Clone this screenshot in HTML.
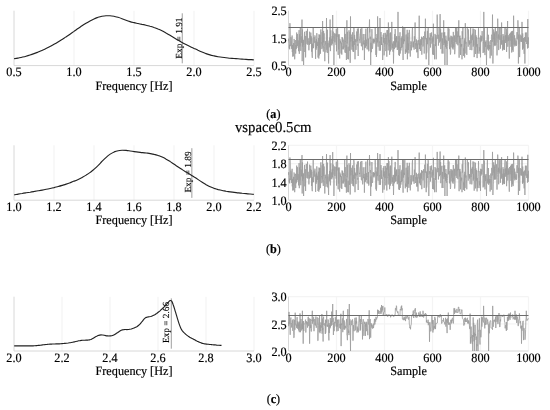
<!DOCTYPE html>
<html><head><meta charset="utf-8"><title>Figure</title>
<style>html,body{margin:0;padding:0;background:#fff}svg{display:block}text{text-rendering:geometricPrecision;stroke:#000;stroke-width:0.18px}</style></head>
<body>
<svg width="550" height="410" viewBox="0 0 550 410" font-family='"Liberation Serif", serif' fill="#000">
<rect width="550" height="410" fill="#fff"/>
<defs><filter id="bl" x="-2%" y="-10%" width="104%" height="120%"><feGaussianBlur stdDeviation="0.3"/></filter></defs>
<g><text transform="translate(14.0 76.3) scale(0.955 1)" font-size="12.8" text-anchor="middle">0.5</text>
<line x1="74.0" y1="10.7" x2="74.0" y2="65.6" stroke="#f4f4f4" stroke-width="1.2"/>
<text transform="translate(74.0 76.3) scale(0.955 1)" font-size="12.8" text-anchor="middle">1.0</text>
<line x1="134.0" y1="10.7" x2="134.0" y2="65.6" stroke="#f4f4f4" stroke-width="1.2"/>
<text transform="translate(134.0 76.3) scale(0.955 1)" font-size="12.8" text-anchor="middle">1.5</text>
<line x1="194.0" y1="10.7" x2="194.0" y2="65.6" stroke="#f4f4f4" stroke-width="1.2"/>
<text transform="translate(194.0 76.3) scale(0.955 1)" font-size="12.8" text-anchor="middle">2.0</text>
<line x1="254.0" y1="10.7" x2="254.0" y2="65.6" stroke="#f4f4f4" stroke-width="1.2"/>
<text transform="translate(254.0 76.3) scale(0.955 1)" font-size="12.8" text-anchor="middle">2.5</text>
<path d="M14.0 10.7V65.6H254.0" fill="none" stroke="#d8d8d8" stroke-width="1"/>
<line x1="182.25" y1="13.3" x2="182.25" y2="63.3" stroke="#6a6a6a" stroke-width="0.65"/>
<text transform="translate(181.7 58.7) rotate(-90)" font-size="9.3" fill="#000" style="stroke-width:0.12px">Exp = 1.91</text>
<path d="M14.0 58.8C14.7 58.7 16.7 58.4 18.0 58.1C19.3 57.8 20.7 57.6 22.0 57.2C23.3 56.9 24.7 56.6 26.0 56.2C27.3 55.8 28.7 55.4 30.0 55.0C31.3 54.6 32.7 54.1 34.0 53.6C35.3 53.1 36.7 52.6 38.0 52.1C39.3 51.5 40.7 51.0 42.0 50.4C43.3 49.8 44.7 49.2 46.0 48.5C47.3 47.9 48.7 47.2 50.0 46.5C51.3 45.8 52.7 45.1 54.0 44.3C55.3 43.6 56.7 42.8 58.0 42.0C59.3 41.2 60.7 40.4 62.0 39.6C63.3 38.7 64.7 37.8 66.0 36.9C67.3 36.1 68.7 35.1 70.0 34.2C71.3 33.3 72.7 32.3 74.0 31.4C75.3 30.4 76.7 29.5 78.0 28.5C79.3 27.6 80.7 26.7 82.0 25.8C83.3 24.9 84.7 24.0 86.0 23.2C87.3 22.4 88.7 21.6 90.0 20.9C91.3 20.2 92.7 19.5 94.0 18.9C95.3 18.3 96.7 17.8 98.0 17.3C99.3 16.9 100.7 16.5 102.0 16.2C103.3 16.0 104.7 15.8 106.0 15.7C107.3 15.7 108.7 15.7 110.0 15.8C111.3 15.9 112.7 16.1 114.0 16.3C115.3 16.6 116.7 16.9 118.0 17.3C119.3 17.7 120.7 18.2 122.0 18.7C123.3 19.2 124.7 19.7 126.0 20.2C127.3 20.7 128.7 21.2 130.0 21.6C131.3 22.0 132.7 22.3 134.0 22.6C135.3 23.0 136.7 23.2 138.0 23.5C139.3 23.8 140.7 24.1 142.0 24.4C143.3 24.6 144.7 24.9 146.0 25.2C147.3 25.6 148.7 25.9 150.0 26.3C151.3 26.6 152.7 27.0 154.0 27.5C155.3 27.9 156.7 28.4 158.0 29.0C159.3 29.5 160.7 30.1 162.0 30.7C163.3 31.4 164.7 32.1 166.0 32.9C167.3 33.6 168.7 34.4 170.0 35.2C171.3 36.0 172.7 36.9 174.0 37.7C175.3 38.5 176.7 39.3 178.0 40.1C179.3 40.9 180.7 41.7 182.0 42.4C183.3 43.2 184.7 43.9 186.0 44.5C187.3 45.2 188.7 45.9 190.0 46.5C191.3 47.1 192.7 47.8 194.0 48.4C195.3 49.0 196.7 49.6 198.0 50.3C199.3 50.9 200.7 51.5 202.0 52.0C203.3 52.6 204.7 53.1 206.0 53.6C207.3 54.1 208.7 54.6 210.0 54.9C211.3 55.3 212.7 55.6 214.0 55.9C215.3 56.2 216.7 56.5 218.0 56.7C219.3 56.9 220.7 57.1 222.0 57.2C223.3 57.4 224.7 57.6 226.0 57.7C227.3 57.9 228.7 58.0 230.0 58.2C231.3 58.3 232.7 58.4 234.0 58.5C235.3 58.6 236.7 58.7 238.0 58.8C239.3 58.9 240.7 59.0 242.0 59.1C243.3 59.2 244.7 59.3 246.0 59.4C247.3 59.5 248.7 59.6 250.0 59.6C251.3 59.7 253.2 59.8 253.8 59.9" fill="none" stroke="#222" stroke-width="1.15" stroke-linejoin="round"/>
<text transform="translate(134.0 89.8) scale(0.955 1)" font-size="12.8" text-anchor="middle">Frequency [Hz]</text>
<text transform="translate(288.5 76.3) scale(0.955 1)" font-size="12.8" text-anchor="middle">0</text>
<line x1="336.5" y1="10.7" x2="336.5" y2="65.6" stroke="#f4f4f4" stroke-width="1.2"/>
<text transform="translate(336.5 76.3) scale(0.955 1)" font-size="12.8" text-anchor="middle">200</text>
<line x1="384.5" y1="10.7" x2="384.5" y2="65.6" stroke="#f4f4f4" stroke-width="1.2"/>
<text transform="translate(384.5 76.3) scale(0.955 1)" font-size="12.8" text-anchor="middle">400</text>
<line x1="432.5" y1="10.7" x2="432.5" y2="65.6" stroke="#f4f4f4" stroke-width="1.2"/>
<text transform="translate(432.5 76.3) scale(0.955 1)" font-size="12.8" text-anchor="middle">600</text>
<line x1="480.5" y1="10.7" x2="480.5" y2="65.6" stroke="#f4f4f4" stroke-width="1.2"/>
<text transform="translate(480.5 76.3) scale(0.955 1)" font-size="12.8" text-anchor="middle">800</text>
<line x1="528.5" y1="10.7" x2="528.5" y2="65.6" stroke="#f4f4f4" stroke-width="1.2"/>
<text transform="translate(528.5 76.3) scale(0.955 1)" font-size="12.8" text-anchor="middle">1000</text>
<text transform="translate(286.7 15.3) scale(0.955 1)" font-size="12.8" text-anchor="end">2.5</text>
<line x1="288.5" y1="38.1" x2="528.5" y2="38.1" stroke="#f4f4f4" stroke-width="1.2"/>
<text transform="translate(286.7 42.8) scale(0.955 1)" font-size="12.8" text-anchor="end">1.5</text>
<text transform="translate(286.7 70.2) scale(0.955 1)" font-size="12.8" text-anchor="end">0.5</text>
<path d="M288.5 10.7V65.6H528.5" fill="none" stroke="#d8d8d8" stroke-width="1"/>
<path d="M288.5 41.2L288.7 38.7L289.0 43.4L289.2 48.4L289.5 44.9L289.7 49.3L289.9 23.2L290.2 30.2L290.4 45.2L290.7 46.2L290.9 37.2L291.1 38.3L291.4 40.3L291.6 48.8L291.9 41.4L292.1 35.5L292.3 52.1L292.6 44.9L292.8 56.7L293.1 51.7L293.3 56.2L293.5 43.1L293.8 51.5L294.0 39.0L294.3 39.9L294.5 42.7L294.7 59.3L295.0 45.6L295.2 41.6L295.5 40.2L295.7 53.6L295.9 45.1L296.2 49.1L296.4 47.8L296.7 32.5L296.9 47.8L297.1 41.4L297.4 34.0L297.6 45.9L297.9 42.1L298.1 40.3L298.3 40.6L298.6 51.2L298.8 40.5L299.1 30.1L299.3 53.8L299.6 34.2L299.8 40.2L300.0 46.4L300.3 27.1L300.5 35.0L300.8 50.9L301.0 40.6L301.2 36.5L301.5 42.7L301.7 35.6L302.0 19.6L302.2 61.2L302.4 29.4L302.7 46.7L302.9 39.5L303.2 44.9L303.4 40.1L303.6 65.0L303.9 45.9L304.1 42.8L304.4 33.8L304.6 31.8L304.8 52.0L305.1 47.6L305.3 35.9L305.6 57.4L305.8 44.9L306.0 42.0L306.3 30.9L306.5 35.5L306.8 43.8L307.0 44.2L307.2 43.2L307.5 28.7L307.7 44.7L308.0 43.6L308.2 38.3L308.4 42.2L308.7 42.8L308.9 50.3L309.2 41.3L309.4 44.8L309.6 31.7L309.9 35.8L310.1 41.4L310.4 35.7L310.6 43.9L310.8 32.6L311.1 41.2L311.3 36.4L311.6 51.7L311.8 38.3L312.0 54.9L312.3 57.8L312.5 43.7L312.8 48.5L313.0 39.8L313.2 27.1L313.5 48.0L313.7 46.3L314.0 39.5L314.2 37.2L314.4 42.6L314.7 42.8L314.9 35.4L315.2 36.9L315.4 49.6L315.6 58.9L315.9 40.9L316.1 49.8L316.4 39.1L316.6 48.2L316.8 33.2L317.1 39.6L317.3 40.4L317.6 46.0L317.8 42.1L318.0 57.5L318.3 50.4L318.5 38.2L318.8 58.5L319.0 34.3L319.3 55.4L319.5 35.0L319.7 48.1L320.0 34.8L320.2 40.1L320.5 53.7L320.7 31.0L320.9 29.4L321.2 41.7L321.4 43.4L321.7 42.5L321.9 49.1L322.1 32.2L322.4 45.6L322.6 21.0L322.9 47.6L323.1 46.3L323.3 51.6L323.6 30.9L323.8 42.4L324.1 33.3L324.3 41.1L324.5 46.8L324.8 61.2L325.0 45.7L325.3 41.1L325.5 44.2L325.7 43.6L326.0 52.4L326.2 47.7L326.5 18.0L326.7 46.6L326.9 49.8L327.2 38.4L327.4 29.7L327.7 53.0L327.9 42.9L328.1 46.3L328.4 55.5L328.6 63.5L328.9 41.4L329.1 40.6L329.3 47.3L329.6 37.5L329.8 45.6L330.1 19.5L330.3 50.2L330.5 51.1L330.8 30.3L331.0 45.3L331.3 38.8L331.5 41.4L331.7 44.8L332.0 45.3L332.2 36.0L332.5 43.6L332.7 15.0L332.9 41.0L333.2 31.6L333.4 35.6L333.7 38.1L333.9 65.0L334.1 52.4L334.4 33.4L334.6 33.3L334.9 42.3L335.1 36.8L335.3 34.8L335.6 34.4L335.8 33.7L336.1 44.9L336.3 28.8L336.5 51.3L336.8 34.1L337.0 37.1L337.3 34.0L337.5 27.1L337.7 29.1L338.0 50.5L338.2 54.9L338.5 34.5L338.7 49.4L339.0 41.3L339.2 34.3L339.4 54.6L339.7 58.4L339.9 39.1L340.2 40.8L340.4 43.2L340.6 40.9L340.9 48.2L341.1 53.5L341.4 42.5L341.6 49.1L341.8 54.6L342.1 37.0L342.3 41.7L342.6 37.9L342.8 49.2L343.0 46.5L343.3 49.3L343.5 48.4L343.8 39.6L344.0 47.6L344.2 38.3L344.5 38.4L344.7 27.1L345.0 52.5L345.2 33.9L345.4 41.9L345.7 41.3L345.9 53.0L346.2 44.9L346.4 60.0L346.6 41.8L346.9 20.3L347.1 43.5L347.4 31.8L347.6 41.3L347.8 59.1L348.1 46.8L348.3 57.2L348.6 59.3L348.8 45.5L349.0 30.3L349.3 40.8L349.5 50.7L349.8 48.8L350.0 32.0L350.2 62.8L350.5 16.4L350.7 41.6L351.0 40.9L351.2 34.6L351.4 36.7L351.7 39.4L351.9 49.7L352.2 37.0L352.4 46.7L352.6 32.3L352.9 51.5L353.1 42.3L353.4 41.2L353.6 52.0L353.8 27.1L354.1 29.3L354.3 44.9L354.6 34.9L354.8 38.1L355.0 59.3L355.3 39.1L355.5 41.7L355.8 40.5L356.0 49.9L356.2 43.4L356.5 42.6L356.7 31.5L357.0 38.4L357.2 41.2L357.4 28.7L357.7 45.7L357.9 44.3L358.2 56.0L358.4 28.4L358.7 33.3L358.9 33.7L359.1 35.7L359.4 40.3L359.6 39.4L359.9 43.2L360.1 42.8L360.3 40.7L360.6 28.8L360.8 36.6L361.1 41.6L361.3 45.9L361.5 46.3L361.8 28.1L362.0 37.0L362.3 40.6L362.5 44.0L362.7 50.2L363.0 41.7L363.2 34.0L363.5 44.4L363.7 43.0L363.9 43.0L364.2 40.3L364.4 60.0L364.7 43.1L364.9 48.1L365.1 34.0L365.4 47.5L365.6 36.5L365.9 28.7L366.1 43.7L366.3 46.1L366.6 39.6L366.8 41.2L367.1 49.3L367.3 37.4L367.5 27.1L367.8 43.3L368.0 42.8L368.3 49.7L368.5 38.6L368.7 51.3L369.0 50.2L369.2 30.7L369.5 19.5L369.7 32.4L369.9 28.7L370.2 39.1L370.4 36.7L370.7 65.0L370.9 42.8L371.1 46.0L371.4 52.2L371.6 40.8L371.9 29.1L372.1 33.3L372.3 48.9L372.6 48.1L372.8 45.3L373.1 38.8L373.3 42.8L373.5 39.4L373.8 38.8L374.0 43.6L374.3 41.5L374.5 39.5L374.7 41.9L375.0 37.1L375.2 27.1L375.5 36.3L375.7 40.7L375.9 54.9L376.2 38.0L376.4 57.0L376.7 52.7L376.9 34.2L377.1 35.4L377.4 42.4L377.6 16.4L377.9 44.2L378.1 46.7L378.3 36.0L378.6 27.1L378.8 39.4L379.1 47.5L379.3 50.7L379.6 41.6L379.8 42.6L380.0 18.0L380.3 40.2L380.5 50.6L380.8 32.1L381.0 32.5L381.2 32.3L381.5 45.0L381.7 37.0L382.0 42.2L382.2 44.3L382.4 43.9L382.7 60.0L382.9 52.9L383.2 34.7L383.4 42.7L383.6 39.4L383.9 33.0L384.1 55.3L384.4 47.6L384.6 39.7L384.8 38.0L385.1 44.2L385.3 32.8L385.6 39.5L385.8 51.1L386.0 48.8L386.3 34.6L386.5 37.4L386.8 56.7L387.0 30.2L387.2 36.3L387.5 30.2L387.7 44.3L388.0 43.6L388.2 50.4L388.4 22.5L388.7 42.6L388.9 28.2L389.2 46.4L389.4 39.8L389.6 54.8L389.9 44.3L390.1 33.1L390.4 51.4L390.6 32.4L390.8 38.4L391.1 49.7L391.3 45.3L391.6 44.9L391.8 21.9L392.0 45.5L392.3 47.9L392.5 43.7L392.8 49.5L393.0 51.7L393.2 41.6L393.5 63.5L393.7 53.6L394.0 41.1L394.2 46.5L394.4 49.1L394.7 34.2L394.9 45.4L395.2 29.0L395.4 47.5L395.6 38.0L395.9 43.0L396.1 47.3L396.4 36.4L396.6 42.4L396.8 36.3L397.1 41.6L397.3 50.0L397.6 42.0L397.8 40.7L398.0 11.9L398.3 48.6L398.5 41.5L398.8 55.2L399.0 35.9L399.3 50.0L399.5 55.9L399.7 41.7L400.0 32.2L400.2 53.6L400.5 50.0L400.7 47.2L400.9 50.4L401.2 38.1L401.4 47.8L401.7 47.1L401.9 36.4L402.1 47.3L402.4 37.6L402.6 26.4L402.9 51.1L403.1 60.0L403.3 27.1L403.6 43.8L403.8 39.2L404.1 41.4L404.3 39.9L404.5 40.8L404.8 27.1L405.0 49.6L405.3 53.9L405.5 49.4L405.7 52.1L406.0 35.1L406.2 34.5L406.5 49.0L406.7 52.5L406.9 44.1L407.2 29.8L407.4 59.3L407.7 36.9L407.9 49.9L408.1 32.7L408.4 50.0L408.6 43.5L408.9 53.4L409.1 49.1L409.3 29.9L409.6 34.5L409.8 44.4L410.1 48.3L410.3 56.6L410.5 44.4L410.8 41.4L411.0 41.9L411.3 41.9L411.5 50.3L411.7 41.7L412.0 41.5L412.2 30.6L412.5 27.1L412.7 42.3L412.9 47.4L413.2 41.7L413.4 46.1L413.7 47.2L413.9 41.6L414.1 49.7L414.4 36.2L414.6 42.0L414.9 39.1L415.1 22.5L415.3 47.1L415.6 48.9L415.8 43.1L416.1 45.6L416.3 39.3L416.5 41.2L416.8 52.3L417.0 40.6L417.3 52.1L417.5 46.2L417.7 43.6L418.0 58.1L418.2 40.4L418.5 39.9L418.7 42.5L419.0 44.6L419.2 15.7L419.4 49.1L419.7 43.4L419.9 45.7L420.2 40.4L420.4 51.0L420.6 39.2L420.9 40.0L421.1 42.3L421.4 44.8L421.6 36.7L421.8 54.7L422.1 37.4L422.3 39.2L422.6 38.9L422.8 38.0L423.0 46.5L423.3 43.3L423.5 36.0L423.8 37.7L424.0 39.5L424.2 53.5L424.5 36.8L424.7 31.6L425.0 32.9L425.2 39.3L425.4 18.7L425.7 33.5L425.9 42.4L426.2 59.3L426.4 38.1L426.6 53.3L426.9 51.7L427.1 46.3L427.4 30.8L427.6 44.2L427.8 39.0L428.1 27.1L428.3 28.2L428.6 42.0L428.8 65.0L429.0 51.4L429.3 46.8L429.5 37.7L429.8 37.9L430.0 40.3L430.2 33.1L430.5 47.5L430.7 41.6L431.0 35.2L431.2 36.4L431.4 32.4L431.7 37.9L431.9 43.7L432.2 38.2L432.4 49.3L432.6 54.5L432.9 36.4L433.1 41.6L433.4 23.7L433.6 55.0L433.8 44.1L434.1 46.1L434.3 48.2L434.6 59.3L434.8 43.9L435.0 33.9L435.3 38.1L435.5 46.1L435.8 41.3L436.0 35.0L436.2 59.3L436.5 42.2L436.7 36.7L437.0 35.6L437.2 14.6L437.4 31.9L437.7 38.6L437.9 38.7L438.2 34.8L438.4 45.6L438.7 41.5L438.9 33.8L439.1 27.1L439.4 42.5L439.6 41.6L439.9 39.6L440.1 14.1L440.3 41.4L440.6 29.2L440.8 49.1L441.1 42.7L441.3 42.8L441.5 34.8L441.8 32.6L442.0 53.5L442.3 48.6L442.5 38.4L442.7 46.5L443.0 53.6L443.2 32.7L443.5 37.1L443.7 20.3L443.9 45.0L444.2 32.8L444.4 43.1L444.7 32.2L444.9 65.0L445.1 48.1L445.4 39.5L445.6 46.9L445.9 35.7L446.1 39.0L446.3 48.7L446.6 40.6L446.8 44.0L447.1 65.0L447.3 46.3L447.5 44.7L447.8 31.3L448.0 27.1L448.3 27.1L448.5 40.7L448.7 39.4L449.0 28.7L449.2 42.2L449.5 49.1L449.7 40.2L449.9 37.5L450.2 47.9L450.4 54.6L450.7 52.9L450.9 35.7L451.1 47.4L451.4 42.3L451.6 39.4L451.9 36.1L452.1 43.9L452.3 37.1L452.6 48.4L452.8 44.1L453.1 49.5L453.3 31.9L453.5 41.4L453.8 47.2L454.0 44.0L454.3 43.0L454.5 35.5L454.7 54.2L455.0 49.6L455.2 44.3L455.5 27.1L455.7 33.4L455.9 42.1L456.2 35.4L456.4 27.1L456.7 43.1L456.9 44.2L457.1 31.3L457.4 37.1L457.6 35.7L457.9 45.3L458.1 27.1L458.3 27.2L458.6 36.6L458.8 20.3L459.1 57.7L459.3 36.0L459.6 42.8L459.8 37.6L460.0 35.6L460.3 44.0L460.5 55.0L460.8 38.2L461.0 47.2L461.2 43.9L461.5 46.1L461.7 44.0L462.0 59.3L462.2 31.2L462.4 39.1L462.7 32.1L462.9 27.1L463.2 41.0L463.4 55.9L463.6 48.5L463.9 51.0L464.1 45.3L464.4 40.5L464.6 57.5L464.8 38.4L465.1 53.5L465.3 23.2L465.6 42.1L465.8 43.7L466.0 41.8L466.3 45.6L466.5 46.2L466.8 54.9L467.0 41.4L467.2 27.1L467.5 27.1L467.7 30.4L468.0 35.4L468.2 46.7L468.4 29.4L468.7 41.6L468.9 41.7L469.2 43.5L469.4 40.4L469.6 44.7L469.9 41.9L470.1 50.0L470.4 44.2L470.6 27.1L470.8 41.7L471.1 43.1L471.3 36.8L471.6 35.4L471.8 50.2L472.0 42.9L472.3 33.7L472.5 39.0L472.8 40.2L473.0 28.5L473.2 46.7L473.5 40.5L473.7 45.4L474.0 29.0L474.2 57.1L474.4 46.6L474.7 45.5L474.9 35.8L475.2 36.2L475.4 29.8L475.6 54.0L475.9 35.1L476.1 43.6L476.4 46.6L476.6 36.8L476.8 48.7L477.1 58.1L477.3 44.2L477.6 53.4L477.8 46.5L478.0 38.1L478.3 38.6L478.5 28.2L478.8 42.8L479.0 53.7L479.3 47.3L479.5 48.7L479.7 51.1L480.0 37.6L480.2 46.4L480.5 57.3L480.7 35.5L480.9 42.1L481.2 38.3L481.4 40.3L481.7 36.0L481.9 40.9L482.1 31.1L482.4 37.7L482.6 38.0L482.9 37.8L483.1 53.0L483.3 42.5L483.6 43.3L483.8 11.9L484.1 52.2L484.3 27.8L484.5 40.3L484.8 51.0L485.0 55.1L485.3 43.5L485.5 41.9L485.7 47.0L486.0 40.4L486.2 46.4L486.5 65.0L486.7 47.1L486.9 41.5L487.2 33.2L487.4 27.1L487.7 49.4L487.9 45.0L488.1 48.0L488.4 34.8L488.6 50.5L488.9 45.1L489.1 41.4L489.3 49.1L489.6 49.0L489.8 45.0L490.1 58.3L490.3 53.0L490.5 44.5L490.8 40.0L491.0 42.7L491.3 55.6L491.5 45.0L491.7 34.7L492.0 36.6L492.2 41.8L492.5 14.6L492.7 36.0L492.9 63.5L493.2 50.7L493.4 47.7L493.7 29.4L493.9 39.4L494.1 31.7L494.4 45.1L494.6 33.5L494.9 46.1L495.1 42.5L495.3 27.1L495.6 34.9L495.8 45.3L496.1 41.9L496.3 38.5L496.5 31.3L496.8 45.2L497.0 55.4L497.3 43.4L497.5 41.0L497.7 18.7L498.0 30.4L498.2 38.6L498.5 34.5L498.7 50.1L499.0 34.1L499.2 27.1L499.4 34.9L499.7 39.1L499.9 39.9L500.2 27.1L500.4 48.7L500.6 42.1L500.9 37.4L501.1 35.1L501.4 44.7L501.6 22.5L501.8 43.4L502.1 40.2L502.3 42.2L502.6 50.5L502.8 41.3L503.0 34.0L503.3 49.1L503.5 43.1L503.8 35.7L504.0 49.9L504.2 39.7L504.5 49.8L504.7 31.9L505.0 27.1L505.2 27.1L505.4 43.0L505.7 35.1L505.9 40.2L506.2 40.3L506.4 28.6L506.6 51.9L506.9 32.6L507.1 41.6L507.4 29.7L507.6 21.0L507.8 46.7L508.1 38.9L508.3 35.2L508.6 40.9L508.8 37.2L509.0 45.4L509.3 58.6L509.5 33.8L509.8 35.5L510.0 40.0L510.2 40.6L510.5 32.7L510.7 44.9L511.0 46.9L511.2 42.7L511.4 31.5L511.7 52.5L511.9 31.5L512.2 46.4L512.4 50.1L512.6 30.9L512.9 42.0L513.1 51.8L513.4 44.1L513.6 15.7L513.8 31.5L514.1 44.7L514.3 37.9L514.6 35.3L514.8 46.4L515.0 38.3L515.3 41.4L515.5 45.5L515.8 45.2L516.0 40.6L516.2 40.9L516.5 45.8L516.7 44.6L517.0 32.1L517.2 39.4L517.4 34.0L517.7 31.4L517.9 20.3L518.2 27.1L518.4 63.5L518.7 34.6L518.9 43.8L519.1 27.1L519.4 27.3L519.6 57.1L519.9 49.1L520.1 35.8L520.3 34.7L520.6 35.2L520.8 41.7L521.1 37.5L521.3 35.8L521.5 41.8L521.8 32.8L522.0 21.9L522.3 36.0L522.5 49.6L522.7 33.4L523.0 43.0L523.2 48.4L523.5 38.1L523.7 48.6L523.9 48.6L524.2 53.9L524.4 41.4L524.7 37.1L524.9 63.5L525.1 42.3L525.4 32.6L525.6 41.0L525.9 41.9L526.1 36.5L526.3 32.5L526.6 44.0L526.8 43.2L527.1 42.5L527.3 40.5L527.5 48.5L527.8 19.1L528.0 44.4L528.3 37.4L528.5 47.9" fill="none" stroke="#9c9c9c" stroke-width="0.8" stroke-linejoin="round" filter="url(#bl)"/>
<line x1="288.5" y1="27.5" x2="528.5" y2="27.5" stroke="#6c6c6c" stroke-width="1"/>
<text transform="translate(408.5 89.8) scale(0.955 1)" font-size="12.8" text-anchor="middle">Sample</text>
<text transform="translate(273.4 118.4) scale(0.95 1)" font-size="12.8" text-anchor="middle">(<tspan font-weight="bold">a</tspan>)</text></g>
<g><text transform="translate(14.0 210.9) scale(0.955 1)" font-size="12.8" text-anchor="middle">1.0</text>
<line x1="54.0" y1="145.3" x2="54.0" y2="200.2" stroke="#f4f4f4" stroke-width="1.2"/>
<text transform="translate(54.0 210.9) scale(0.955 1)" font-size="12.8" text-anchor="middle">1.2</text>
<line x1="94.0" y1="145.3" x2="94.0" y2="200.2" stroke="#f4f4f4" stroke-width="1.2"/>
<text transform="translate(94.0 210.9) scale(0.955 1)" font-size="12.8" text-anchor="middle">1.4</text>
<line x1="134.0" y1="145.3" x2="134.0" y2="200.2" stroke="#f4f4f4" stroke-width="1.2"/>
<text transform="translate(134.0 210.9) scale(0.955 1)" font-size="12.8" text-anchor="middle">1.6</text>
<line x1="174.0" y1="145.3" x2="174.0" y2="200.2" stroke="#f4f4f4" stroke-width="1.2"/>
<text transform="translate(174.0 210.9) scale(0.955 1)" font-size="12.8" text-anchor="middle">1.8</text>
<line x1="214.0" y1="145.3" x2="214.0" y2="200.2" stroke="#f4f4f4" stroke-width="1.2"/>
<text transform="translate(214.0 210.9) scale(0.955 1)" font-size="12.8" text-anchor="middle">2.0</text>
<line x1="254.0" y1="145.3" x2="254.0" y2="200.2" stroke="#f4f4f4" stroke-width="1.2"/>
<text transform="translate(254.0 210.9) scale(0.955 1)" font-size="12.8" text-anchor="middle">2.2</text>
<path d="M14.0 145.3V200.2H254.0" fill="none" stroke="#d8d8d8" stroke-width="1"/>
<line x1="191.85" y1="148.2" x2="191.85" y2="197.9" stroke="#6a6a6a" stroke-width="0.65"/>
<text transform="translate(190.9 192.6) rotate(-90)" font-size="9.3" fill="#000" style="stroke-width:0.12px">Exp = 1.89</text>
<path d="M14.2 194.9C14.9 194.7 16.9 194.4 18.2 194.1C19.5 193.9 20.9 193.7 22.2 193.5C23.5 193.2 24.9 193.0 26.2 192.8C27.5 192.6 28.9 192.4 30.2 192.2C31.5 191.9 32.9 191.7 34.2 191.5C35.5 191.3 36.9 191.1 38.2 190.8C39.5 190.6 40.9 190.4 42.2 190.1C43.5 189.9 44.9 189.6 46.2 189.3C47.5 189.1 48.9 188.8 50.2 188.5C51.5 188.2 52.9 187.9 54.2 187.6C55.5 187.2 56.9 186.9 58.2 186.5C59.5 186.2 60.9 185.8 62.2 185.4C63.5 185.0 64.9 184.6 66.2 184.1C67.5 183.7 68.9 183.2 70.2 182.7C71.5 182.2 72.9 181.7 74.2 181.1C75.5 180.6 76.9 180.0 78.2 179.4C79.5 178.8 80.9 178.1 82.2 177.4C83.5 176.7 84.9 176.0 86.2 175.1C87.5 174.3 88.9 173.4 90.2 172.4C91.5 171.4 92.9 170.4 94.2 169.2C95.5 168.0 96.9 166.7 98.2 165.4C99.5 164.0 100.9 162.6 102.2 161.2C103.5 159.9 104.9 158.5 106.2 157.3C107.5 156.1 108.9 155.0 110.2 154.1C111.5 153.2 112.9 152.5 114.2 151.9C115.5 151.4 116.9 151.0 118.2 150.7C119.5 150.4 120.9 150.3 122.2 150.2C123.5 150.2 124.9 150.3 126.2 150.4C127.5 150.5 128.9 150.8 130.2 151.0C131.5 151.2 132.9 151.4 134.2 151.6C135.5 151.8 136.9 152.0 138.2 152.1C139.5 152.3 140.9 152.4 142.2 152.6C143.5 152.7 144.9 152.8 146.2 153.0C147.5 153.2 148.9 153.3 150.2 153.6C151.5 153.8 152.9 154.0 154.2 154.4C155.5 154.7 156.9 155.1 158.2 155.5C159.5 156.0 160.9 156.5 162.2 157.1C163.5 157.7 164.9 158.4 166.2 159.2C167.5 159.9 168.9 160.8 170.2 161.6C171.5 162.5 172.9 163.4 174.2 164.3C175.5 165.2 176.9 166.1 178.2 167.0C179.5 167.9 180.9 168.8 182.2 169.6C183.5 170.5 184.9 171.3 186.2 172.1C187.5 172.9 188.9 173.7 190.2 174.5C191.5 175.3 192.9 176.1 194.2 177.0C195.5 177.8 196.9 178.7 198.2 179.6C199.5 180.5 200.9 181.4 202.2 182.2C203.5 183.1 204.9 183.9 206.2 184.7C207.5 185.4 208.9 186.2 210.2 186.8C211.5 187.4 212.9 187.9 214.2 188.4C215.5 188.8 216.9 189.2 218.2 189.6C219.5 189.9 220.9 190.2 222.2 190.5C223.5 190.8 224.9 191.0 226.2 191.3C227.5 191.5 228.9 191.7 230.2 191.9C231.5 192.1 232.9 192.3 234.2 192.4C235.5 192.6 236.9 192.7 238.2 192.9C239.5 193.0 240.9 193.1 242.2 193.3C243.5 193.4 244.9 193.5 246.2 193.6C247.5 193.8 248.9 193.9 250.2 194.0C251.5 194.2 253.2 194.4 253.8 194.4" fill="none" stroke="#222" stroke-width="1.15" stroke-linejoin="round"/>
<text transform="translate(134.0 224.4) scale(0.955 1)" font-size="12.8" text-anchor="middle">Frequency [Hz]</text>
<text transform="translate(288.5 210.9) scale(0.955 1)" font-size="12.8" text-anchor="middle">0</text>
<line x1="336.5" y1="145.3" x2="336.5" y2="200.2" stroke="#f4f4f4" stroke-width="1.2"/>
<text transform="translate(336.5 210.9) scale(0.955 1)" font-size="12.8" text-anchor="middle">200</text>
<line x1="384.5" y1="145.3" x2="384.5" y2="200.2" stroke="#f4f4f4" stroke-width="1.2"/>
<text transform="translate(384.5 210.9) scale(0.955 1)" font-size="12.8" text-anchor="middle">400</text>
<line x1="432.5" y1="145.3" x2="432.5" y2="200.2" stroke="#f4f4f4" stroke-width="1.2"/>
<text transform="translate(432.5 210.9) scale(0.955 1)" font-size="12.8" text-anchor="middle">600</text>
<line x1="480.5" y1="145.3" x2="480.5" y2="200.2" stroke="#f4f4f4" stroke-width="1.2"/>
<text transform="translate(480.5 210.9) scale(0.955 1)" font-size="12.8" text-anchor="middle">800</text>
<line x1="528.5" y1="145.3" x2="528.5" y2="200.2" stroke="#f4f4f4" stroke-width="1.2"/>
<text transform="translate(528.5 210.9) scale(0.955 1)" font-size="12.8" text-anchor="middle">1000</text>
<line x1="288.5" y1="145.3" x2="528.5" y2="145.3" stroke="#f4f4f4" stroke-width="1.2"/>
<text transform="translate(286.7 149.9) scale(0.955 1)" font-size="12.8" text-anchor="end">2.2</text>
<line x1="288.5" y1="163.6" x2="528.5" y2="163.6" stroke="#f4f4f4" stroke-width="1.2"/>
<text transform="translate(286.7 168.2) scale(0.955 1)" font-size="12.8" text-anchor="end">1.8</text>
<line x1="288.5" y1="181.9" x2="528.5" y2="181.9" stroke="#f4f4f4" stroke-width="1.2"/>
<text transform="translate(286.7 186.5) scale(0.955 1)" font-size="12.8" text-anchor="end">1.4</text>
<text transform="translate(286.7 204.8) scale(0.955 1)" font-size="12.8" text-anchor="end">1.0</text>
<path d="M288.5 145.3V200.2H528.5" fill="none" stroke="#d8d8d8" stroke-width="1"/>
<path d="M288.5 174.8L288.7 172.2L289.0 177.2L289.2 182.5L289.5 178.7L289.7 183.4L289.9 157.5L290.2 163.2L290.4 179.1L290.7 180.2L290.9 170.6L291.1 171.7L291.4 173.9L291.6 182.9L291.9 175.1L292.1 168.8L292.3 186.4L292.6 178.8L292.8 190.5L293.1 186.0L293.3 190.2L293.5 176.8L293.8 185.8L294.0 172.5L294.3 173.5L294.5 176.4L294.7 192.2L295.0 179.5L295.2 175.2L295.5 173.8L295.7 188.0L295.9 178.9L296.2 183.3L296.4 181.8L296.7 165.6L296.9 181.8L297.1 175.1L297.4 167.2L297.6 179.9L297.9 175.8L298.1 173.9L298.3 174.3L298.6 185.4L298.8 174.2L299.1 163.1L299.3 188.2L299.6 167.4L299.8 173.8L300.0 180.4L300.3 160.1L300.5 168.2L300.8 185.2L301.0 174.2L301.2 169.8L301.5 176.4L301.7 168.9L302.0 155.1L302.2 193.5L302.4 162.4L302.7 180.7L302.9 173.1L303.2 178.8L303.4 173.7L303.6 196.0L303.9 179.8L304.1 176.5L304.4 167.0L304.6 164.9L304.8 186.3L305.1 181.7L305.3 169.2L305.6 191.0L305.8 178.8L306.0 175.6L306.3 163.9L306.5 168.8L306.8 177.6L307.0 178.0L307.2 177.0L307.5 161.6L307.7 178.5L308.0 177.4L308.2 171.8L308.4 175.9L308.7 176.5L308.9 184.4L309.2 174.9L309.4 178.6L309.6 164.7L309.9 169.2L310.1 175.0L310.4 169.0L310.6 177.7L310.8 165.7L311.1 174.9L311.3 169.8L311.6 186.0L311.8 171.8L312.0 189.3L312.3 191.2L312.5 177.4L312.8 182.6L313.0 173.4L313.2 160.1L313.5 182.0L313.7 180.2L314.0 173.0L314.2 170.5L314.4 176.3L314.7 176.6L314.9 168.7L315.2 170.3L315.4 183.7L315.6 191.9L315.9 174.5L316.1 183.9L316.4 172.6L316.6 182.2L316.8 166.4L317.1 173.1L317.3 174.0L317.6 179.9L317.8 175.8L318.0 191.0L318.3 184.6L318.5 171.7L318.8 191.7L319.0 167.5L319.3 189.6L319.5 168.3L319.7 182.1L320.0 168.1L320.2 173.7L320.5 188.1L320.7 164.0L320.9 162.3L321.2 175.4L321.4 177.2L321.7 176.2L321.9 183.2L322.1 165.3L322.4 179.5L322.6 156.1L322.9 181.7L323.1 180.2L323.3 185.9L323.6 163.9L323.8 176.1L324.1 166.5L324.3 174.7L324.5 180.8L324.8 193.5L325.0 179.7L325.3 174.7L325.5 178.1L325.7 177.4L326.0 186.7L326.2 181.8L326.5 154.1L326.7 180.6L326.9 183.9L327.2 171.9L327.4 162.6L327.7 187.4L327.9 176.6L328.1 180.3L328.4 189.7L328.6 195.0L328.9 175.0L329.1 174.2L329.3 181.3L329.6 170.9L329.8 179.5L330.1 155.1L330.3 184.4L330.5 185.3L330.8 163.3L331.0 179.2L331.3 172.3L331.5 175.1L331.7 178.6L332.0 179.2L332.2 169.4L332.5 177.4L332.7 152.1L332.9 174.6L333.2 164.6L333.4 168.9L333.7 171.5L333.9 196.0L334.1 186.8L334.4 166.6L334.6 166.5L334.9 176.0L335.1 170.1L335.3 168.1L335.6 167.6L335.8 166.8L336.1 178.7L336.3 161.7L336.5 185.6L336.8 167.4L337.0 170.5L337.3 167.3L337.5 160.1L337.7 162.0L338.0 184.7L338.2 189.3L338.5 167.7L338.7 183.6L339.0 174.9L339.2 167.5L339.4 189.0L339.7 191.6L339.9 172.6L340.2 174.4L340.4 176.9L340.6 174.5L340.9 182.2L341.1 187.9L341.4 176.2L341.6 183.2L341.8 189.0L342.1 170.4L342.3 175.3L342.6 171.3L342.8 183.4L343.0 180.5L343.3 183.4L343.5 182.5L343.8 173.1L344.0 181.6L344.2 171.7L344.5 171.9L344.7 160.1L345.0 186.9L345.2 167.1L345.4 175.6L345.7 174.9L345.9 187.3L346.2 178.8L346.4 192.7L346.6 175.5L346.9 155.6L347.1 177.3L347.4 164.8L347.6 175.0L347.8 192.1L348.1 180.8L348.3 190.8L348.6 192.2L348.8 179.4L349.0 163.3L349.3 174.4L349.5 184.9L349.8 182.9L350.0 165.0L350.2 194.5L350.5 153.0L350.7 175.3L351.0 174.5L351.2 167.8L351.4 170.0L351.7 172.9L351.9 183.8L352.2 170.4L352.4 180.7L352.6 165.4L352.9 185.8L353.1 176.0L353.4 174.9L353.6 186.3L353.8 160.1L354.1 162.2L354.3 178.8L354.6 168.1L354.8 171.5L355.0 192.2L355.3 172.6L355.5 175.3L355.8 174.1L356.0 184.1L356.2 177.1L356.5 176.4L356.7 164.5L357.0 171.9L357.2 174.9L357.4 161.6L357.7 179.6L357.9 178.2L358.2 190.0L358.4 161.2L358.7 166.5L358.9 166.9L359.1 169.0L359.4 173.9L359.6 172.9L359.9 177.0L360.1 176.6L360.3 174.3L360.6 161.7L360.8 170.0L361.1 175.3L361.3 179.8L361.5 180.3L361.8 161.0L362.0 170.4L362.3 174.2L362.5 177.8L362.7 184.4L363.0 175.4L363.2 167.3L363.5 178.2L363.7 176.8L363.9 176.7L364.2 173.9L364.4 192.7L364.7 176.8L364.9 182.2L365.1 167.2L365.4 181.5L365.6 169.8L365.9 161.6L366.1 177.5L366.3 180.0L366.6 173.2L366.8 174.8L367.1 183.4L367.3 170.8L367.5 160.1L367.8 177.0L368.0 176.6L368.3 183.8L368.5 172.0L368.7 185.6L369.0 184.4L369.2 163.7L369.5 155.1L369.7 165.5L369.9 161.6L370.2 172.6L370.4 170.0L370.7 196.0L370.9 176.5L371.1 179.9L371.4 186.5L371.6 174.4L371.9 162.0L372.1 166.5L372.3 183.0L372.6 182.2L372.8 179.2L373.1 172.3L373.3 176.6L373.5 173.0L373.8 172.2L374.0 177.4L374.3 175.2L374.5 173.0L374.7 175.5L375.0 170.5L375.2 160.1L375.5 169.7L375.7 174.3L375.9 189.3L376.2 171.5L376.4 190.7L376.7 187.0L376.9 167.4L377.1 168.7L377.4 176.1L377.6 153.0L377.9 178.0L378.1 180.7L378.3 169.3L378.6 160.1L378.8 172.9L379.1 181.5L379.3 184.9L379.6 175.3L379.8 176.3L380.0 154.1L380.3 173.8L380.5 184.8L380.8 165.2L381.0 165.6L381.2 165.4L381.5 178.9L381.7 170.4L382.0 176.0L382.2 178.2L382.4 177.7L382.7 192.7L382.9 187.3L383.2 167.9L383.4 176.5L383.6 172.9L383.9 166.1L384.1 189.6L384.4 181.6L384.6 173.3L384.8 171.4L385.1 178.1L385.3 165.9L385.6 173.0L385.8 185.3L386.0 182.9L386.3 167.8L386.5 170.8L386.8 190.5L387.0 163.2L387.2 169.6L387.5 163.2L387.7 178.1L388.0 177.4L388.2 184.5L388.4 157.1L388.7 176.3L388.9 161.1L389.2 180.4L389.4 173.4L389.6 189.2L389.9 178.1L390.1 166.3L390.4 185.6L390.6 165.5L390.8 171.9L391.1 183.8L391.3 179.1L391.6 178.8L391.8 156.7L392.0 179.4L392.3 182.0L392.5 177.4L392.8 183.7L393.0 186.0L393.2 175.2L393.5 195.0L393.7 188.0L394.0 174.8L394.2 180.4L394.4 183.3L394.7 167.4L394.9 179.3L395.2 161.9L395.4 181.6L395.6 171.5L395.9 176.8L396.1 181.3L396.4 169.7L396.6 176.1L396.8 169.6L397.1 175.2L397.3 184.2L397.6 175.7L397.8 174.4L398.0 150.1L398.3 182.6L398.5 175.1L398.8 189.5L399.0 169.2L399.3 184.2L399.5 190.0L399.7 175.3L400.0 165.2L400.2 188.0L400.5 184.2L400.7 181.2L400.9 184.6L401.2 171.5L401.4 181.8L401.7 181.0L401.9 169.8L402.1 181.3L402.4 171.1L402.6 159.6L402.9 185.3L403.1 192.7L403.3 160.1L403.6 177.6L403.8 172.7L404.1 175.1L404.3 173.4L404.5 174.4L404.8 160.1L405.0 183.8L405.3 188.3L405.5 183.6L405.7 186.3L406.0 168.3L406.2 167.7L406.5 183.1L406.7 186.8L406.9 177.9L407.2 162.8L407.4 192.2L407.7 170.3L407.9 184.1L408.1 165.8L408.4 184.1L408.6 177.3L408.9 187.8L409.1 183.3L409.3 162.8L409.6 167.7L409.8 178.3L410.1 182.3L410.3 190.4L410.5 178.2L410.8 175.1L411.0 175.5L411.3 175.6L411.5 184.5L411.7 175.4L412.0 175.1L412.2 163.6L412.5 160.1L412.7 176.0L412.9 181.4L413.2 175.4L413.4 180.1L413.7 181.2L413.9 175.3L414.1 183.8L414.4 169.6L414.6 175.7L414.9 172.6L415.1 157.1L415.3 181.1L415.6 183.0L415.8 176.9L416.1 179.6L416.3 172.8L416.5 174.8L416.8 186.6L417.0 174.2L417.3 186.4L417.5 180.1L417.7 177.4L418.0 191.4L418.2 174.0L418.5 173.5L418.7 176.2L419.0 178.5L419.2 152.6L419.4 183.3L419.7 177.1L419.9 179.6L420.2 174.0L420.4 185.2L420.6 172.8L420.9 173.6L421.1 176.0L421.4 178.6L421.6 170.0L421.8 189.2L422.1 170.8L422.3 172.7L422.6 172.4L422.8 171.5L423.0 180.5L423.3 177.1L423.5 169.3L423.8 171.1L424.0 173.0L424.2 187.9L424.5 170.2L424.7 164.7L425.0 166.1L425.2 172.8L425.4 154.6L425.7 166.7L425.9 176.1L426.2 192.2L426.4 171.5L426.6 187.7L426.9 186.0L427.1 180.3L427.4 163.8L427.6 178.0L427.8 172.5L428.1 160.1L428.3 161.0L428.6 175.7L428.8 196.0L429.0 185.7L429.3 180.8L429.5 171.1L429.8 171.4L430.0 173.9L430.2 166.2L430.5 181.5L430.7 175.3L431.0 168.5L431.2 169.8L431.4 165.5L431.7 171.4L431.9 177.5L432.2 171.7L432.4 183.5L432.6 189.0L432.9 169.8L433.1 175.3L433.4 157.8L433.6 189.4L433.8 178.0L434.1 180.0L434.3 182.3L434.6 192.2L434.8 177.7L435.0 167.0L435.3 171.5L435.5 180.0L435.8 174.9L436.0 168.3L436.2 192.2L436.5 175.9L436.7 170.1L437.0 168.9L437.2 151.9L437.4 165.0L437.7 172.1L437.9 172.2L438.2 168.0L438.4 179.5L438.7 175.2L438.9 167.0L439.1 160.1L439.4 176.2L439.6 175.2L439.9 173.1L440.1 151.5L440.3 175.1L440.6 162.1L440.8 183.2L441.1 176.4L441.3 176.5L441.5 168.0L441.8 165.8L442.0 187.9L442.3 182.7L442.5 171.9L442.7 180.5L443.0 188.0L443.2 165.8L443.5 170.5L443.7 155.6L443.9 178.9L444.2 165.9L444.4 176.9L444.7 165.3L444.9 196.0L445.1 182.2L445.4 173.0L445.6 180.9L445.9 169.0L446.1 172.6L446.3 182.8L446.6 174.2L446.8 177.8L447.1 196.0L447.3 180.3L447.5 178.6L447.8 164.3L448.0 160.1L448.3 160.1L448.5 174.3L448.7 172.9L449.0 161.5L449.2 175.9L449.5 183.3L449.7 173.8L449.9 170.9L450.2 182.0L450.4 189.0L450.7 187.2L450.9 169.1L451.1 181.4L451.4 176.0L451.6 173.0L451.9 169.5L452.1 177.7L452.3 170.5L452.6 182.5L452.8 177.9L453.1 183.7L453.3 165.0L453.5 175.0L453.8 181.2L454.0 177.9L454.3 176.7L454.5 168.8L454.7 188.6L455.0 183.8L455.2 178.1L455.5 160.1L455.7 166.5L455.9 175.8L456.2 168.7L456.4 160.1L456.7 176.8L456.9 178.0L457.1 164.3L457.4 170.5L457.6 169.0L457.9 179.2L458.1 160.1L458.3 160.2L458.6 169.9L458.8 155.6L459.1 191.2L459.3 169.3L459.6 176.5L459.8 171.1L460.0 168.9L460.3 177.8L460.5 189.3L460.8 171.6L461.0 181.2L461.2 177.7L461.5 180.0L461.7 177.8L462.0 192.2L462.2 164.3L462.4 172.6L462.7 165.2L462.9 160.1L463.2 174.6L463.4 189.9L463.6 182.5L463.9 185.2L464.1 179.1L464.4 174.1L464.6 191.0L464.8 171.8L465.1 187.9L465.3 157.5L465.6 175.8L465.8 177.5L466.0 175.4L466.3 179.5L466.5 180.1L466.8 189.3L467.0 175.1L467.2 160.1L467.5 160.1L467.7 163.4L468.0 168.7L468.2 180.7L468.4 162.3L468.7 175.3L468.9 175.4L469.2 177.3L469.4 174.0L469.6 178.6L469.9 175.5L470.1 184.2L470.4 178.0L470.6 160.1L470.8 175.4L471.1 176.9L471.3 170.2L471.6 168.7L471.8 184.4L472.0 176.6L472.3 166.9L472.5 172.5L472.8 173.8L473.0 161.4L473.2 180.7L473.5 174.1L473.7 179.3L474.0 161.9L474.2 190.7L474.4 180.6L474.7 179.4L474.9 169.1L475.2 169.6L475.4 162.7L475.6 188.4L475.9 168.3L476.1 177.3L476.4 180.6L476.6 170.1L476.8 182.8L477.1 191.4L477.3 178.0L477.6 187.8L477.8 180.4L478.0 171.6L478.3 172.1L478.5 161.1L478.8 176.5L479.0 188.1L479.3 181.3L479.5 182.8L479.7 185.3L480.0 171.0L480.2 180.4L480.5 190.9L480.7 168.8L480.9 175.8L481.2 171.7L481.4 173.9L481.7 169.3L481.9 174.5L482.1 164.1L482.4 171.1L482.6 171.4L482.9 171.3L483.1 187.4L483.3 176.2L483.6 177.1L483.8 150.1L484.1 186.6L484.3 160.7L484.5 173.9L484.8 185.3L485.0 189.4L485.3 177.2L485.5 175.6L485.7 181.0L486.0 174.0L486.2 180.4L486.5 196.0L486.7 181.1L486.9 175.1L487.2 166.3L487.4 160.1L487.7 183.5L487.9 178.8L488.1 182.1L488.4 168.0L488.6 184.7L488.9 179.0L489.1 175.1L489.3 183.3L489.6 183.1L489.8 178.9L490.1 191.5L490.3 187.3L490.5 178.4L490.8 173.5L491.0 176.4L491.3 189.8L491.5 178.8L491.7 167.9L492.0 170.0L492.2 175.5L492.5 151.9L492.7 169.4L492.9 195.0L493.2 184.9L493.4 181.7L493.7 162.3L493.9 172.9L494.1 164.8L494.4 179.0L494.6 166.7L494.9 180.0L495.1 176.2L495.3 160.1L495.6 168.2L495.8 179.1L496.1 175.5L496.3 172.0L496.5 164.3L496.8 179.0L497.0 189.6L497.3 177.2L497.5 174.7L497.7 154.6L498.0 163.4L498.2 172.1L498.5 167.8L498.7 184.3L499.0 167.3L499.2 160.1L499.4 168.1L499.7 172.6L499.9 173.5L500.2 160.1L500.4 182.8L500.6 175.8L500.9 170.8L501.1 168.4L501.4 178.6L501.6 157.1L501.8 177.2L502.1 173.8L502.3 176.0L502.6 184.7L502.8 175.0L503.0 167.2L503.3 183.2L503.5 176.9L503.8 169.1L504.0 184.1L504.2 173.2L504.5 184.0L504.7 165.0L505.0 160.1L505.2 160.1L505.4 176.7L505.7 168.4L505.9 173.8L506.2 173.9L506.4 161.4L506.6 186.2L506.9 165.7L507.1 175.2L507.4 162.6L507.6 156.1L507.8 180.6L508.1 172.4L508.3 168.4L508.6 174.5L508.8 170.6L509.0 179.3L509.3 191.7L509.5 167.0L509.8 168.8L510.0 173.5L510.2 174.2L510.5 165.8L510.7 178.8L511.0 180.9L511.2 176.4L511.4 164.5L511.7 186.8L511.9 164.5L512.2 180.3L512.4 184.3L512.6 163.9L512.9 175.6L513.1 186.1L513.4 177.9L513.6 152.6L513.8 164.5L514.1 178.5L514.3 171.3L514.6 168.6L514.8 180.4L515.0 171.7L515.3 175.1L515.5 179.4L515.8 179.1L516.0 174.2L516.2 174.6L516.5 179.7L516.7 178.5L517.0 165.2L517.2 173.0L517.4 167.2L517.7 164.4L517.9 155.6L518.2 160.1L518.4 195.0L518.7 167.8L518.9 177.6L519.1 160.1L519.4 160.2L519.6 190.8L519.9 183.2L520.1 169.1L520.3 168.0L520.6 168.4L520.8 175.4L521.1 170.9L521.3 169.2L521.5 175.5L521.8 165.9L522.0 156.7L522.3 169.3L522.5 183.7L522.7 166.5L523.0 176.8L523.2 182.5L523.5 171.6L523.7 182.7L523.9 182.7L524.2 188.4L524.4 175.0L524.7 170.5L524.9 195.0L525.1 176.0L525.4 165.7L525.6 174.7L525.9 175.6L526.1 169.8L526.3 165.7L526.6 177.8L526.8 176.9L527.1 176.2L527.3 174.1L527.5 182.6L527.8 154.8L528.0 178.3L528.3 170.8L528.5 181.9" fill="none" stroke="#9c9c9c" stroke-width="0.8" stroke-linejoin="round" filter="url(#bl)"/>
<line x1="288.5" y1="159.5" x2="528.5" y2="159.5" stroke="#6c6c6c" stroke-width="1"/>
<text transform="translate(408.5 224.4) scale(0.955 1)" font-size="12.8" text-anchor="middle">Sample</text>
<text transform="translate(273.4 252.8) scale(0.95 1)" font-size="12.8" text-anchor="middle">(<tspan font-weight="bold">b</tspan>)</text></g>
<g><text transform="translate(14.0 361.7) scale(0.955 1)" font-size="12.8" text-anchor="middle">2.0</text>
<line x1="62.0" y1="296.7" x2="62.0" y2="351.0" stroke="#f4f4f4" stroke-width="1.2"/>
<text transform="translate(62.0 361.7) scale(0.955 1)" font-size="12.8" text-anchor="middle">2.2</text>
<line x1="110.0" y1="296.7" x2="110.0" y2="351.0" stroke="#f4f4f4" stroke-width="1.2"/>
<text transform="translate(110.0 361.7) scale(0.955 1)" font-size="12.8" text-anchor="middle">2.4</text>
<line x1="158.0" y1="296.7" x2="158.0" y2="351.0" stroke="#f4f4f4" stroke-width="1.2"/>
<text transform="translate(158.0 361.7) scale(0.955 1)" font-size="12.8" text-anchor="middle">2.6</text>
<line x1="206.0" y1="296.7" x2="206.0" y2="351.0" stroke="#f4f4f4" stroke-width="1.2"/>
<text transform="translate(206.0 361.7) scale(0.955 1)" font-size="12.8" text-anchor="middle">2.8</text>
<line x1="254.0" y1="296.7" x2="254.0" y2="351.0" stroke="#f4f4f4" stroke-width="1.2"/>
<text transform="translate(254.0 361.7) scale(0.955 1)" font-size="12.8" text-anchor="middle">3.0</text>
<path d="M14.0 296.7V351.0H254.0" fill="none" stroke="#d8d8d8" stroke-width="1"/>
<line x1="171.30" y1="298.4" x2="171.30" y2="348.7" stroke="#6a6a6a" stroke-width="0.65"/>
<text transform="translate(168.9 343.1) rotate(-90)" font-size="9.3" fill="#000" style="stroke-width:0.12px">Exp = 2.66</text>
<path d="M14.2 345.8C14.4 345.8 15.2 345.8 15.7 345.8C16.2 345.8 16.7 345.8 17.2 345.8C17.7 345.8 18.2 345.8 18.7 345.8C19.2 345.8 19.7 345.8 20.2 345.8C20.7 345.8 21.2 345.8 21.7 345.8C22.2 345.8 22.7 345.8 23.2 345.8C23.7 345.8 24.2 345.8 24.7 345.8C25.2 345.8 25.7 345.9 26.2 345.9C26.7 345.9 27.2 345.9 27.7 345.9C28.2 345.9 28.7 345.9 29.2 345.9C29.7 345.9 30.2 345.9 30.7 345.8C31.2 345.8 31.7 345.8 32.2 345.8C32.7 345.8 33.2 345.8 33.7 345.8C34.2 345.7 34.7 345.7 35.2 345.7C35.7 345.7 36.2 345.6 36.7 345.6C37.2 345.5 37.7 345.5 38.2 345.4C38.7 345.4 39.2 345.3 39.7 345.3C40.2 345.2 40.7 345.2 41.2 345.1C41.7 345.0 42.2 345.0 42.7 344.9C43.2 344.8 43.7 344.8 44.2 344.7C44.7 344.6 45.2 344.6 45.7 344.5C46.2 344.5 46.7 344.4 47.2 344.4C47.7 344.3 48.2 344.3 48.7 344.2C49.2 344.2 49.7 344.2 50.2 344.1C50.7 344.1 51.2 344.1 51.7 344.1C52.2 344.1 52.7 344.0 53.2 344.0C53.7 344.0 54.2 344.0 54.7 344.0C55.2 344.0 55.7 344.0 56.2 343.9C56.7 343.9 57.2 343.9 57.7 343.9C58.2 343.9 58.7 343.8 59.2 343.8C59.7 343.8 60.2 343.8 60.7 343.7C61.2 343.7 61.7 343.7 62.2 343.6C62.7 343.6 63.2 343.5 63.7 343.5C64.2 343.4 64.7 343.4 65.2 343.3C65.7 343.3 66.2 343.2 66.7 343.2C67.2 343.1 67.7 343.0 68.2 343.0C68.7 342.9 69.2 342.8 69.7 342.7C70.2 342.7 70.7 342.6 71.2 342.5C71.7 342.4 72.2 342.3 72.7 342.2C73.2 342.1 73.7 342.0 74.2 341.9C74.7 341.8 75.2 341.6 75.7 341.5C76.2 341.4 76.7 341.3 77.2 341.2C77.7 341.1 78.2 340.9 78.7 340.8C79.2 340.7 79.7 340.6 80.2 340.6C80.7 340.5 81.2 340.4 81.7 340.3C82.2 340.3 82.7 340.2 83.2 340.2C83.7 340.2 84.2 340.2 84.7 340.2C85.2 340.2 85.7 340.2 86.2 340.1C86.7 340.1 87.2 340.1 87.7 340.1C88.2 340.0 88.7 340.0 89.2 339.9C89.7 339.8 90.2 339.6 90.7 339.5C91.2 339.3 91.7 339.0 92.2 338.8C92.7 338.6 93.2 338.3 93.7 338.0C94.2 337.7 94.7 337.4 95.2 337.1C95.7 336.8 96.2 336.5 96.7 336.3C97.2 336.0 97.7 335.7 98.2 335.5C98.7 335.3 99.2 335.2 99.7 335.1C100.2 335.0 100.7 334.9 101.2 334.9C101.7 334.9 102.2 335.0 102.7 335.0C103.2 335.1 103.7 335.2 104.2 335.3C104.7 335.4 105.2 335.5 105.7 335.6C106.2 335.7 106.7 335.8 107.2 335.8C107.7 335.9 108.2 335.9 108.7 336.0C109.2 336.0 109.7 336.0 110.2 335.9C110.7 335.9 111.2 335.8 111.7 335.7C112.2 335.6 112.7 335.5 113.2 335.3C113.7 335.1 114.2 334.8 114.7 334.5C115.2 334.2 115.7 333.9 116.2 333.5C116.7 333.2 117.2 332.8 117.7 332.5C118.2 332.1 118.7 331.7 119.2 331.4C119.7 331.1 120.2 330.8 120.7 330.5C121.2 330.3 121.7 330.0 122.2 329.9C122.7 329.7 123.2 329.6 123.7 329.6C124.2 329.5 124.7 329.5 125.2 329.5C125.7 329.5 126.2 329.6 126.7 329.6C127.2 329.6 127.7 329.6 128.2 329.5C128.7 329.5 129.2 329.4 129.7 329.3C130.2 329.2 130.7 329.1 131.2 329.0C131.7 328.8 132.2 328.7 132.7 328.5C133.2 328.4 133.7 328.2 134.2 328.0C134.7 327.8 135.2 327.6 135.7 327.3C136.2 327.1 136.7 326.8 137.2 326.5C137.7 326.1 138.2 325.7 138.7 325.3C139.2 324.9 139.7 324.4 140.2 323.8C140.7 323.3 141.2 322.6 141.7 322.0C142.2 321.4 142.7 320.7 143.2 320.1C143.7 319.5 144.2 318.8 144.7 318.4C145.2 318.0 145.7 317.6 146.2 317.4C146.7 317.1 147.2 317.1 147.7 317.0C148.2 316.9 148.7 316.9 149.2 316.8C149.7 316.7 150.2 316.6 150.7 316.5C151.2 316.3 151.7 316.2 152.2 316.0C152.7 315.8 153.2 315.6 153.7 315.3C154.2 315.1 154.7 314.8 155.2 314.5C155.7 314.1 156.2 313.8 156.7 313.5C157.2 313.1 157.7 312.7 158.2 312.3C158.7 311.9 159.2 311.5 159.7 311.1C160.2 310.6 160.7 310.2 161.2 309.7C161.7 309.2 162.2 308.8 162.7 308.3C163.2 307.8 163.7 307.3 164.2 306.8C164.7 306.3 165.2 305.8 165.7 305.2C166.2 304.7 166.7 304.1 167.2 303.6C167.7 303.0 168.2 302.3 168.7 301.8C169.2 301.3 169.7 300.6 170.2 300.5C170.7 300.4 171.2 300.6 171.7 301.2C172.2 301.9 172.7 303.3 173.2 304.7C173.7 306.0 174.2 307.6 174.7 309.3C175.2 310.9 175.7 312.7 176.2 314.4C176.7 316.0 177.2 317.8 177.7 319.4C178.2 321.1 178.7 322.7 179.2 324.1C179.7 325.5 180.2 326.8 180.7 327.9C181.2 329.0 181.7 329.8 182.2 330.6C182.7 331.3 183.2 331.8 183.7 332.4C184.2 332.9 184.7 333.4 185.2 333.8C185.7 334.3 186.2 334.7 186.7 335.1C187.2 335.5 187.7 335.8 188.2 336.2C188.7 336.5 189.2 336.8 189.7 337.2C190.2 337.5 190.7 337.8 191.2 338.0C191.7 338.3 192.2 338.6 192.7 338.8C193.2 339.1 193.7 339.4 194.2 339.6C194.7 339.9 195.2 340.2 195.7 340.4C196.2 340.7 196.7 340.9 197.2 341.2C197.7 341.4 198.2 341.7 198.7 341.9C199.2 342.1 199.7 342.3 200.2 342.5C200.7 342.7 201.2 342.9 201.7 343.1C202.2 343.3 202.7 343.4 203.2 343.5C203.7 343.7 204.2 343.8 204.7 343.8C205.2 343.9 205.7 344.0 206.2 344.1C206.7 344.1 207.2 344.2 207.7 344.2C208.2 344.3 208.7 344.3 209.2 344.4C209.7 344.4 210.2 344.5 210.7 344.5C211.2 344.6 211.7 344.6 212.2 344.7C212.7 344.7 213.2 344.8 213.7 344.8C214.2 344.9 214.7 344.9 215.2 344.9C215.7 345.0 216.2 345.0 216.7 345.1C217.2 345.1 217.7 345.1 218.2 345.2C218.7 345.2 219.2 345.2 219.7 345.3C220.2 345.3 220.9 345.3 221.2 345.3C221.5 345.3 221.4 345.3 221.5 345.3" fill="none" stroke="#222" stroke-width="1.15" stroke-linejoin="round"/>
<text transform="translate(134.0 375.2) scale(0.955 1)" font-size="12.8" text-anchor="middle">Frequency [Hz]</text>
<text transform="translate(288.5 361.7) scale(0.955 1)" font-size="12.8" text-anchor="middle">0</text>
<line x1="336.5" y1="296.7" x2="336.5" y2="351.0" stroke="#f4f4f4" stroke-width="1.2"/>
<text transform="translate(336.5 361.7) scale(0.955 1)" font-size="12.8" text-anchor="middle">200</text>
<line x1="384.5" y1="296.7" x2="384.5" y2="351.0" stroke="#f4f4f4" stroke-width="1.2"/>
<text transform="translate(384.5 361.7) scale(0.955 1)" font-size="12.8" text-anchor="middle">400</text>
<line x1="432.5" y1="296.7" x2="432.5" y2="351.0" stroke="#f4f4f4" stroke-width="1.2"/>
<text transform="translate(432.5 361.7) scale(0.955 1)" font-size="12.8" text-anchor="middle">600</text>
<line x1="480.5" y1="296.7" x2="480.5" y2="351.0" stroke="#f4f4f4" stroke-width="1.2"/>
<text transform="translate(480.5 361.7) scale(0.955 1)" font-size="12.8" text-anchor="middle">800</text>
<line x1="528.5" y1="296.7" x2="528.5" y2="351.0" stroke="#f4f4f4" stroke-width="1.2"/>
<text transform="translate(528.5 361.7) scale(0.955 1)" font-size="12.8" text-anchor="middle">1000</text>
<line x1="288.5" y1="296.7" x2="528.5" y2="296.7" stroke="#f4f4f4" stroke-width="1.2"/>
<text transform="translate(286.7 301.3) scale(0.955 1)" font-size="12.8" text-anchor="end">3.0</text>
<line x1="288.5" y1="323.9" x2="528.5" y2="323.9" stroke="#f4f4f4" stroke-width="1.2"/>
<text transform="translate(286.7 328.5) scale(0.955 1)" font-size="12.8" text-anchor="end">2.5</text>
<text transform="translate(286.7 355.6) scale(0.955 1)" font-size="12.8" text-anchor="end">2.0</text>
<path d="M288.5 296.7V351.0H528.5" fill="none" stroke="#d8d8d8" stroke-width="1"/>
<path d="M288.5 322.0L288.7 326.2L289.0 311.9L289.2 324.2L289.5 315.5L289.7 322.1L289.9 322.8L290.2 334.8L290.4 319.4L290.7 319.4L290.9 317.5L291.1 323.6L291.4 323.0L291.6 327.5L291.9 323.6L292.1 322.5L292.3 320.2L292.6 323.3L292.8 330.8L293.1 319.2L293.3 329.4L293.5 330.8L293.8 337.8L294.0 337.8L294.3 335.5L294.5 319.8L294.7 329.8L295.0 329.8L295.2 312.7L295.5 322.8L295.7 325.2L295.9 325.2L296.2 325.2L296.4 324.7L296.7 327.9L296.9 320.7L297.1 317.1L297.4 328.7L297.6 321.4L297.9 321.4L298.1 326.3L298.3 323.6L298.6 330.4L298.8 322.2L299.1 322.4L299.3 332.2L299.6 321.6L299.8 328.3L300.0 313.4L300.3 323.7L300.5 332.2L300.8 322.4L301.0 319.0L301.2 323.2L301.5 323.2L301.7 330.5L302.0 324.2L302.2 329.2L302.4 310.8L302.7 329.0L302.9 321.4L303.2 343.7L303.4 321.1L303.6 331.0L303.9 331.0L304.1 325.2L304.4 323.6L304.6 323.6L304.8 323.2L305.1 323.2L305.3 320.9L305.6 319.6L305.8 332.5L306.0 329.0L306.3 321.4L306.5 321.2L306.8 324.0L307.0 324.4L307.2 322.0L307.5 327.6L307.7 324.1L308.0 317.1L308.2 317.1L308.4 316.8L308.7 326.1L308.9 325.6L309.2 318.3L309.4 328.0L309.6 343.7L309.9 326.1L310.1 320.8L310.4 318.9L310.6 328.1L310.8 325.1L311.1 330.9L311.3 331.5L311.6 328.3L311.8 319.6L312.0 320.9L312.3 310.8L312.5 323.6L312.8 319.7L313.0 319.7L313.2 321.4L313.5 317.4L313.7 316.8L314.0 331.2L314.2 319.9L314.4 319.9L314.7 319.2L314.9 324.4L315.2 323.7L315.4 325.5L315.6 320.0L315.9 316.5L316.1 327.7L316.4 327.7L316.6 325.2L316.8 325.2L317.1 317.3L317.3 317.3L317.6 325.2L317.8 340.7L318.0 340.7L318.3 330.0L318.5 325.2L318.8 321.9L319.0 317.9L319.3 332.0L319.5 315.3L319.7 323.0L320.0 333.2L320.2 325.2L320.5 325.2L320.7 331.1L320.9 322.4L321.2 327.2L321.4 327.7L321.7 325.8L321.9 314.0L322.1 333.7L322.4 318.6L322.6 330.0L322.9 327.8L323.1 341.5L323.3 319.6L323.6 316.7L323.8 325.0L324.1 324.4L324.3 323.3L324.5 324.1L324.8 326.0L325.0 325.6L325.3 334.0L325.5 319.7L325.7 332.9L326.0 328.3L326.2 320.6L326.5 322.5L326.7 310.8L326.9 326.4L327.2 326.4L327.4 324.8L327.7 326.7L327.9 319.5L328.1 319.9L328.4 319.9L328.6 333.2L328.9 340.4L329.1 323.1L329.3 333.1L329.6 325.2L329.8 325.2L330.1 328.3L330.3 318.1L330.5 327.2L330.8 322.2L331.0 322.2L331.3 320.8L331.5 325.6L331.7 311.6L332.0 324.9L332.2 316.9L332.5 316.9L332.7 304.0L332.9 321.9L333.2 318.2L333.4 335.0L333.7 322.7L333.9 322.7L334.1 331.2L334.4 328.6L334.6 321.9L334.9 321.9L335.1 323.2L335.3 317.2L335.6 320.4L335.8 320.4L336.1 326.5L336.3 310.1L336.5 322.1L336.8 331.4L337.0 322.9L337.3 326.7L337.5 319.7L337.7 323.4L338.0 330.7L338.2 331.0L338.5 323.3L338.7 319.7L339.0 319.4L339.2 323.3L339.4 323.9L339.7 323.9L339.9 328.0L340.2 324.0L340.4 329.0L340.6 318.1L340.9 313.8L341.1 346.1L341.4 323.5L341.6 325.0L341.8 325.0L342.1 322.2L342.3 318.5L342.6 318.5L342.8 332.2L343.0 318.8L343.3 310.8L343.5 319.9L343.8 329.3L344.0 329.5L344.2 320.4L344.5 325.9L344.7 329.6L345.0 326.4L345.2 326.0L345.4 325.8L345.7 328.2L345.9 328.3L346.2 321.9L346.4 321.9L346.6 318.9L346.9 335.0L347.1 335.0L347.4 340.2L347.6 327.6L347.8 309.2L348.1 323.3L348.3 328.6L348.6 333.0L348.8 330.6L349.0 335.1L349.3 304.0L349.5 325.1L349.8 319.0L350.0 320.0L350.2 324.5L350.5 351.0L350.7 327.7L351.0 322.6L351.2 320.5L351.4 323.9L351.7 325.1L351.9 325.1L352.2 320.9L352.4 319.4L352.6 319.4L352.9 340.6L353.1 340.6L353.4 325.1L353.6 329.2L353.8 329.5L354.1 331.2L354.3 321.2L354.6 320.5L354.8 320.5L355.0 317.8L355.3 330.4L355.5 325.6L355.8 320.7L356.0 324.1L356.2 317.5L356.5 323.0L356.7 321.5L357.0 332.5L357.2 326.6L357.4 329.6L357.7 331.0L357.9 328.4L358.2 332.2L358.4 332.2L358.7 323.2L358.9 320.0L359.1 315.7L359.4 315.7L359.6 321.8L359.9 321.8L360.1 330.7L360.3 319.0L360.6 329.8L360.8 323.0L361.1 324.0L361.3 315.9L361.5 321.6L361.8 321.6L362.0 322.2L362.3 324.3L362.5 339.4L362.7 323.4L363.0 322.2L363.2 319.2L363.5 331.5L363.7 331.5L363.9 335.8L364.2 331.9L364.4 324.5L364.7 321.7L364.9 323.5L365.1 322.4L365.4 335.9L365.6 324.0L365.9 326.7L366.1 323.2L366.3 331.2L366.6 321.8L366.8 322.1L367.1 324.5L367.3 328.8L367.5 328.8L367.8 335.2L368.0 319.0L368.3 323.5L368.5 324.4L368.7 323.8L369.0 321.0L369.2 310.3L369.5 339.1L369.7 324.8L369.9 325.0L370.2 319.0L370.4 330.9L370.7 337.7L370.9 331.2L371.1 323.1L371.4 326.2L371.6 324.4L371.9 327.7L372.1 325.4L372.3 328.6L372.6 328.6L372.8 325.3L373.1 325.5L373.3 323.6L373.5 328.1L373.8 325.5L374.0 325.5L374.3 320.3L374.5 318.9L374.7 324.4L375.0 324.4L375.2 319.4L375.5 319.4L375.7 321.6L375.9 316.9L376.2 317.7L376.4 319.4L376.7 319.4L376.9 317.6L377.1 317.6L377.4 317.6L377.6 309.7L377.9 313.8L378.1 311.4L378.3 310.1L378.6 313.6L378.8 311.7L379.1 311.1L379.3 311.1L379.6 311.1L379.8 314.0L380.0 314.0L380.3 313.2L380.5 310.5L380.8 307.6L381.0 312.7L381.2 313.7L381.5 305.0L381.7 312.1L382.0 310.6L382.2 306.5L382.4 310.2L382.7 310.2L382.9 305.9L383.2 314.9L383.4 315.1L383.6 312.7L383.9 312.0L384.1 311.8L384.4 311.8L384.6 311.8L384.8 307.5L385.1 315.0L385.3 314.8L385.6 315.6L385.8 315.6L386.0 315.6L386.3 315.6L386.5 315.6L386.8 314.1L387.0 315.4L387.2 315.7L387.5 316.5L387.7 316.5L388.0 315.6L388.2 315.6L388.4 316.1L388.7 314.5L388.9 315.4L389.2 315.1L389.4 314.8L389.6 314.8L389.9 315.3L390.1 315.3L390.4 315.2L390.6 317.3L390.8 316.1L391.1 316.1L391.3 316.1L391.6 315.2L391.8 314.8L392.0 315.3L392.3 314.8L392.5 315.4L392.8 315.1L393.0 315.1L393.2 316.4L393.5 316.4L393.7 316.6L394.0 316.6L394.2 315.3L394.4 315.2L394.7 315.2L394.9 314.5L395.2 314.5L395.4 308.2L395.6 308.2L395.9 309.7L396.1 310.3L396.4 305.7L396.6 306.2L396.8 311.3L397.1 311.3L397.3 311.3L397.6 312.8L397.8 311.5L398.0 311.5L398.3 314.8L398.5 315.7L398.8 314.9L399.0 314.9L399.3 315.3L399.5 315.3L399.7 315.6L400.0 315.6L400.2 309.0L400.5 309.0L400.7 310.2L400.9 310.2L401.2 306.5L401.4 308.4L401.7 305.6L401.9 310.4L402.1 308.3L402.4 319.0L402.6 319.0L402.9 319.6L403.1 319.6L403.3 318.4L403.6 319.6L403.8 320.2L404.1 316.7L404.3 319.8L404.5 319.8L404.8 317.5L405.0 317.5L405.3 317.5L405.5 321.1L405.7 318.7L406.0 316.1L406.2 318.4L406.5 318.3L406.7 317.4L406.9 317.4L407.2 317.2L407.4 315.8L407.7 317.2L407.9 318.7L408.1 318.7L408.4 318.7L408.6 319.5L408.9 316.7L409.1 316.6L409.3 324.5L409.6 324.5L409.8 328.1L410.1 327.2L410.3 327.2L410.5 329.3L410.8 325.5L411.0 325.5L411.3 324.1L411.5 315.7L411.7 315.8L412.0 315.8L412.2 315.8L412.5 314.2L412.7 316.2L412.9 313.3L413.2 310.6L413.4 310.6L413.7 318.0L413.9 316.3L414.1 312.6L414.4 312.6L414.6 312.6L414.9 309.6L415.1 310.8L415.3 308.2L415.6 317.3L415.8 315.2L416.1 315.2L416.3 315.2L416.5 312.7L416.8 317.8L417.0 316.0L417.3 316.0L417.5 316.0L417.7 316.3L418.0 316.3L418.2 315.5L418.5 315.1L418.7 312.5L419.0 314.2L419.2 314.2L419.4 314.6L419.7 316.9L419.9 314.8L420.2 311.4L420.4 316.4L420.6 316.4L420.9 315.1L421.1 314.0L421.4 316.2L421.6 316.2L421.8 315.9L422.1 315.9L422.3 317.0L422.6 315.7L422.8 315.7L423.0 310.8L423.3 314.2L423.5 317.4L423.8 317.4L424.0 315.1L424.2 316.0L424.5 314.2L424.7 315.7L425.0 313.8L425.2 313.8L425.4 313.1L425.7 314.8L425.9 314.8L426.2 313.9L426.4 322.3L426.6 320.3L426.9 322.5L427.1 322.5L427.4 322.5L427.6 322.6L427.8 323.1L428.1 319.7L428.3 325.2L428.6 322.1L428.8 322.1L429.0 322.1L429.3 324.8L429.5 341.8L429.8 322.6L430.0 322.3L430.2 327.6L430.5 327.6L430.7 331.3L431.0 331.3L431.2 328.5L431.4 321.3L431.7 321.3L431.9 315.5L432.2 320.3L432.4 323.8L432.6 320.2L432.9 332.5L433.1 320.1L433.4 330.1L433.6 330.1L433.8 328.9L434.1 326.0L434.3 326.0L434.6 328.5L434.8 316.9L435.0 319.7L435.3 318.7L435.5 329.1L435.8 323.4L436.0 323.6L436.2 323.6L436.5 323.6L436.7 323.0L437.0 323.0L437.2 323.0L437.4 323.0L437.7 316.0L437.9 315.8L438.2 315.8L438.4 315.8L438.7 317.1L438.9 316.3L439.1 316.3L439.4 317.4L439.6 316.6L439.9 316.6L440.1 316.7L440.3 314.3L440.6 315.6L440.8 316.6L441.1 316.9L441.3 315.0L441.5 323.4L441.8 323.4L442.0 323.4L442.3 321.6L442.5 320.5L442.7 320.5L443.0 320.5L443.2 321.0L443.5 318.2L443.7 322.0L443.9 322.0L444.2 322.0L444.4 322.0L444.7 324.3L444.9 324.3L445.1 324.3L445.4 319.6L445.6 317.8L445.9 326.6L446.1 322.0L446.3 322.0L446.6 319.3L446.8 325.1L447.1 333.1L447.3 319.7L447.5 318.5L447.8 323.0L448.0 323.2L448.3 312.6L448.5 324.5L448.7 323.2L449.0 323.2L449.2 324.9L449.5 322.9L449.7 322.9L449.9 322.4L450.2 329.8L450.4 325.6L450.7 324.1L450.9 319.8L451.1 322.2L451.4 319.9L451.6 323.4L451.9 319.5L452.1 320.7L452.3 317.9L452.6 317.9L452.8 319.5L453.1 323.3L453.3 323.3L453.5 323.3L453.8 308.4L454.0 308.4L454.3 308.4L454.5 313.9L454.7 308.4L455.0 312.4L455.2 310.3L455.5 312.3L455.7 312.3L455.9 312.3L456.2 312.3L456.4 312.3L456.7 312.4L456.9 308.9L457.1 312.4L457.4 313.0L457.6 312.5L457.9 312.5L458.1 312.5L458.3 307.0L458.6 307.0L458.8 307.0L459.1 311.4L459.3 309.8L459.6 309.8L459.8 309.0L460.0 313.4L460.3 314.0L460.5 314.0L460.8 314.0L461.0 312.8L461.2 312.8L461.5 311.5L461.7 309.7L462.0 309.7L462.2 315.6L462.4 318.4L462.7 318.4L462.9 319.2L463.2 319.2L463.4 319.4L463.6 323.4L463.9 325.6L464.1 323.5L464.4 323.5L464.6 324.3L464.8 318.1L465.1 321.8L465.3 317.6L465.6 321.7L465.8 321.7L466.0 319.3L466.3 321.8L466.5 322.0L466.8 320.4L467.0 318.4L467.2 318.2L467.5 317.8L467.7 323.4L468.0 320.4L468.2 320.4L468.4 323.5L468.7 320.7L468.9 321.3L469.2 322.5L469.4 325.7L469.6 328.5L469.9 329.1L470.1 313.6L470.4 343.7L470.6 336.9L470.8 342.6L471.1 326.6L471.3 333.4L471.6 338.0L471.8 338.0L472.0 341.1L472.3 344.1L472.5 335.1L472.8 351.0L473.0 330.6L473.2 317.4L473.5 336.8L473.7 322.8L474.0 341.4L474.2 332.8L474.4 332.8L474.7 351.0L474.9 324.9L475.2 324.9L475.4 335.4L475.6 334.0L475.9 338.3L476.1 339.9L476.4 336.6L476.6 351.0L476.8 344.1L477.1 346.2L477.3 323.2L477.6 319.7L477.8 332.5L478.0 351.0L478.3 332.3L478.5 330.3L478.8 330.3L479.0 330.3L479.3 318.3L479.5 318.3L479.7 340.5L480.0 344.5L480.2 329.8L480.5 336.6L480.7 336.4L480.9 337.3L481.2 336.1L481.4 326.8L481.7 316.7L481.9 326.7L482.1 317.5L482.4 317.5L482.6 320.6L482.9 320.6L483.1 320.6L483.3 322.5L483.6 305.9L483.8 316.0L484.1 317.5L484.3 321.2L484.5 323.0L484.8 328.4L485.0 317.7L485.3 319.9L485.5 320.9L485.7 325.0L486.0 320.6L486.2 317.9L486.5 317.9L486.7 317.9L486.9 324.2L487.2 324.4L487.4 321.4L487.7 319.5L487.9 321.6L488.1 321.7L488.4 327.3L488.6 351.0L488.9 324.3L489.1 331.9L489.3 333.3L489.6 322.7L489.8 322.7L490.1 320.7L490.3 320.7L490.5 320.7L490.8 320.7L491.0 328.1L491.3 328.1L491.5 328.1L491.7 328.1L492.0 328.1L492.2 328.1L492.5 329.7L492.7 305.9L492.9 320.9L493.2 326.8L493.4 324.4L493.7 320.1L493.9 320.1L494.1 320.1L494.4 320.7L494.6 319.7L494.9 322.2L495.1 322.2L495.3 319.2L495.6 316.8L495.8 328.0L496.1 315.4L496.3 316.4L496.5 316.4L496.8 316.4L497.0 321.8L497.3 317.5L497.5 316.1L497.7 323.8L498.0 323.8L498.2 323.8L498.5 318.1L498.7 318.1L499.0 313.0L499.2 319.2L499.4 321.4L499.7 327.0L499.9 327.0L500.2 323.1L500.4 319.4L500.6 321.3L500.9 314.9L501.1 315.5L501.4 315.7L501.6 315.8L501.8 315.9L502.1 315.7L502.3 315.6L502.6 316.7L502.8 316.2L503.0 316.4L503.3 315.7L503.5 315.3L503.8 314.7L504.0 315.5L504.2 315.5L504.5 321.8L504.7 321.8L505.0 321.8L505.2 328.3L505.4 325.3L505.7 325.8L505.9 325.8L506.2 330.2L506.4 330.9L506.6 322.0L506.9 330.0L507.1 326.5L507.4 317.1L507.6 321.1L507.8 319.4L508.1 319.4L508.3 314.3L508.6 320.6L508.8 314.5L509.0 313.4L509.3 318.4L509.5 314.3L509.8 315.2L510.0 319.9L510.2 315.4L510.5 312.6L510.7 317.2L511.0 317.1L511.2 317.1L511.4 317.1L511.7 317.0L511.9 316.9L512.2 316.9L512.4 316.9L512.6 314.6L512.9 314.6L513.1 319.3L513.4 318.8L513.6 317.2L513.8 317.1L514.1 317.1L514.3 317.1L514.6 319.6L514.8 319.6L515.0 310.8L515.3 319.1L515.5 316.2L515.8 318.1L516.0 320.1L516.2 314.4L516.5 316.2L516.7 322.9L517.0 316.6L517.2 316.6L517.4 316.9L517.7 320.2L517.9 323.7L518.2 326.1L518.4 325.4L518.7 319.7L518.9 319.7L519.1 319.7L519.4 313.4L519.6 316.4L519.9 323.2L520.1 323.2L520.3 323.2L520.6 321.2L520.8 328.4L521.1 325.7L521.3 325.8L521.5 343.7L521.8 325.8L522.0 330.7L522.3 327.3L522.5 327.2L522.7 322.1L523.0 320.9L523.2 320.9L523.5 340.1L523.7 328.2L523.9 328.2L524.2 328.2L524.4 329.6L524.7 329.6L524.9 339.7L525.1 339.7L525.4 336.1L525.6 329.5L525.9 319.3L526.1 319.3L526.3 310.8L526.6 317.6L526.8 320.6L527.1 320.6L527.3 319.5L527.5 319.9L527.8 319.9L528.0 318.5L528.3 318.5L528.5 318.7" fill="none" stroke="#9c9c9c" stroke-width="0.8" stroke-linejoin="round" filter="url(#bl)"/>
<line x1="288.5" y1="315.5" x2="528.5" y2="315.5" stroke="#6c6c6c" stroke-width="1"/>
<text transform="translate(408.5 375.2) scale(0.955 1)" font-size="12.8" text-anchor="middle">Sample</text>
<text transform="translate(273.4 403.3) scale(0.95 1)" font-size="12.8" text-anchor="middle">(<tspan font-weight="bold">c</tspan>)</text></g>
<text transform="translate(273.2 131.8) scale(0.972 1)" font-size="15.2" text-anchor="middle">vspace0.5cm</text>
</svg>
</body></html>
